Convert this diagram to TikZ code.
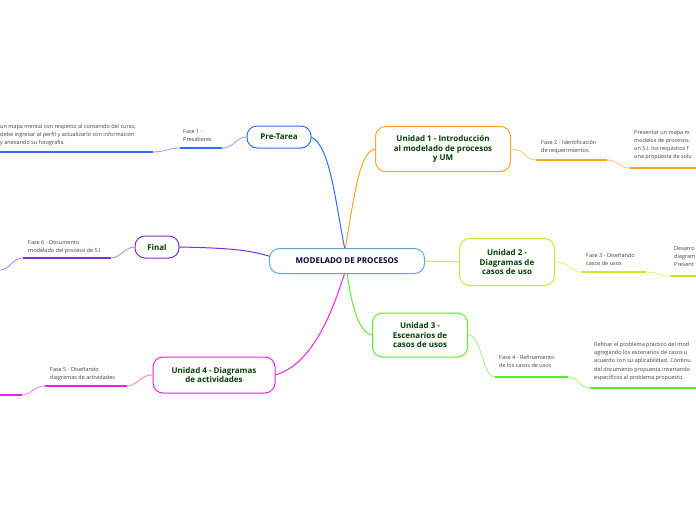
\documentclass[tikz,border=0pt]{standalone}
\usepackage{fontspec}
\setmainfont{Open Sans}
\begin{document}
\begin{tikzpicture}[x=1pt,y=-1pt,
  topic/.style={draw=#1,line width=1pt,rounded corners=10pt,fill=white,align=center,font=\fontsize{8}{9.5}\selectfont\bfseries,text=green!25!black,inner sep=3pt},
  leaf/.style={anchor=north west,align=left,font=\fontsize{5.5}{8.2}\selectfont,text=black!75,inner sep=0pt},
  ul/.style={draw=#1,line width=1.4pt},
  cn/.style={draw=#1,line width=0.8pt}]
\useasboundingbox (0,0) rectangle (696,520);
\clip (0,0) rectangle (696,520);
\definecolor{cblue}{HTML}{2F6BFF}
\definecolor{cpur}{HTML}{7B2FE0}
\definecolor{cmag}{HTML}{F020E8}
\definecolor{corg}{HTML}{FFA21F}
\definecolor{cyel}{HTML}{C8EA2A}
\definecolor{cgrn}{HTML}{5CEB2A}
\definecolor{clb}{HTML}{5BA8E0}
% connectors from center
\draw[cn=cblue,line width=1pt] (311,137) .. controls (330,145) and (335,200) .. (345,250);
\draw[cn=corg,line width=1pt] (345,250) .. controls (355,190) and (360,152) .. (375,149);
\draw[cn=cpur,line width=1pt] (179,247) .. controls (230,248) and (250,250) .. (272,257);
\draw[cn=cmag,line width=1pt] (275,375) .. controls (310,365) and (330,320) .. (345,272);
\draw[cn=cyel,line width=1pt] (425,261) -- (460,262);
\draw[cn=cgrn,line width=1pt] (347,272) .. controls (352,310) and (360,333) .. (372,335);
% nodes
\node[topic=clb,minimum width=155pt,minimum height=25pt,text=blue!20!black] (c) at (347,261) {MODELADO DE PROCESOS};
\node[topic=cblue,minimum width=64pt,minimum height=22pt] (pt) at (279,137) {Pre-Tarea};
\node[topic=cpur,minimum width=44pt,minimum height=22pt] (fi) at (157,247) {Final};
\node[topic=cmag,minimum width=122pt,minimum height=36pt] (u4) at (214,375) {Unidad 4 - Diagramas\\de actividades};
\node[topic=corg,minimum width=135pt,minimum height=45pt] (u1) at (443,149) {Unidad 1 - Introducción\\al modelado de procesos\\y UM};
\node[topic=cyel,minimum width=95pt,minimum height=47pt] (u2) at (507,262) {Unidad 2 -\\Diagramas de\\casos de uso};
\node[topic=cgrn,minimum width=95pt,minimum height=44pt] (u3) at (420,335) {Unidad 3 -\\Escenarios de\\casos de usos};
% Pre-Tarea branch
\node[leaf] (f1) at (183,129) {Fase 1 -\\Presaberes};
\draw[cn=cblue!60] (pt.west) .. controls (235,137) and (235,148) .. (222,148);
\draw[ul=cblue] (222,148) -- (180,148);
\draw[cn=cblue!60] (180,148) .. controls (168,148) and (165,152) .. (153,152);
\draw[ul=cblue] (153,152) -- (0,152);
\node[leaf] (d1) at (0,124) {un mapa mental con respecto al contenido del curso,\\debe ingresar al perfil y actualizarlo con información\\ y anexando su fotografía};
% Final branch
\node[leaf] (f6) at (28,240) {Fase 6 - Documento\\modelado del proceso de S.I};
\draw[cn=cpur!60] (fi.west) .. controls (125,247) and (120,258) .. (111,258);
\draw[ul=cpur] (111,258) -- (23,258);
\draw[cn=cpur!60] (23,258) .. controls (12,258) and (10,270) .. (0,270);
% Unidad 4 branch
\node[leaf] (f5) at (50,367) {Fase 5 - Diseñando\\diagramas de actividades};
\draw[cn=cmag!60] (u4.west) .. controls (140,375) and (137,386) .. (127,386);
\draw[ul=cmag] (127,386) -- (45,386);
\draw[cn=cmag!60] (45,386) .. controls (33,386) and (32,395) .. (22,395);
\draw[ul=cmag] (22,395) -- (0,395);
% Unidad 1 branch
\node[leaf] (f2) at (541,140) {Fase 2 - Identificación\\de requerimientos};
\draw[cn=corg!60] (u1.east) .. controls (525,149) and (525,160) .. (536,160);
\draw[ul=corg] (536,160) -- (607,160);
\draw[cn=corg!60] (607,160) .. controls (620,160) and (618,168) .. (630,168);
\draw[ul=corg] (630,168) -- (696,168);
\node[leaf] (d2) at (634,130) {Presentar un mapa m\\modelos de procesos.\\un S.I. los requisitos f\\una propuesta de solu};
% Unidad 2 branch
\node[leaf] (f3) at (586,253) {Fase 3 - Diseñando\\casos de usos};
\draw[cn=cyel!60] (u2.east) .. controls (570,262) and (570,272) .. (582,272);
\draw[ul=cyel] (582,272) -- (646,272);
\draw[cn=cyel!60] (646,272) .. controls (658,272) and (658,276) .. (670,276);
\draw[ul=cyel] (670,276) -- (696,276);
\node[leaf] (d3) at (674,246) {Desarro\\diagram\\Present};
% Unidad 3 branch
\node[leaf] (f4) at (499,355) {Fase 4 - Refinamiento\\de los casos de usos};
\draw[cn=cgrn!60] (u3.east) .. controls (482,335) and (482,377) .. (495,377);
\draw[ul=cgrn] (495,377) -- (568,377);
\draw[cn=cgrn!60] (568,377) .. controls (580,377) and (578,388) .. (590,388);
\draw[ul=cgrn] (590,388) -- (696,388);
\node[leaf] (d4) at (594,342) {Refinar el problema práctico del mod\\agregando los escenarios de casos u\\acuerdo con su aplicabilidad. Continu\\del documento propuesta insertando\\específicos al problema propuesto.};
\end{tikzpicture}
\end{document}
